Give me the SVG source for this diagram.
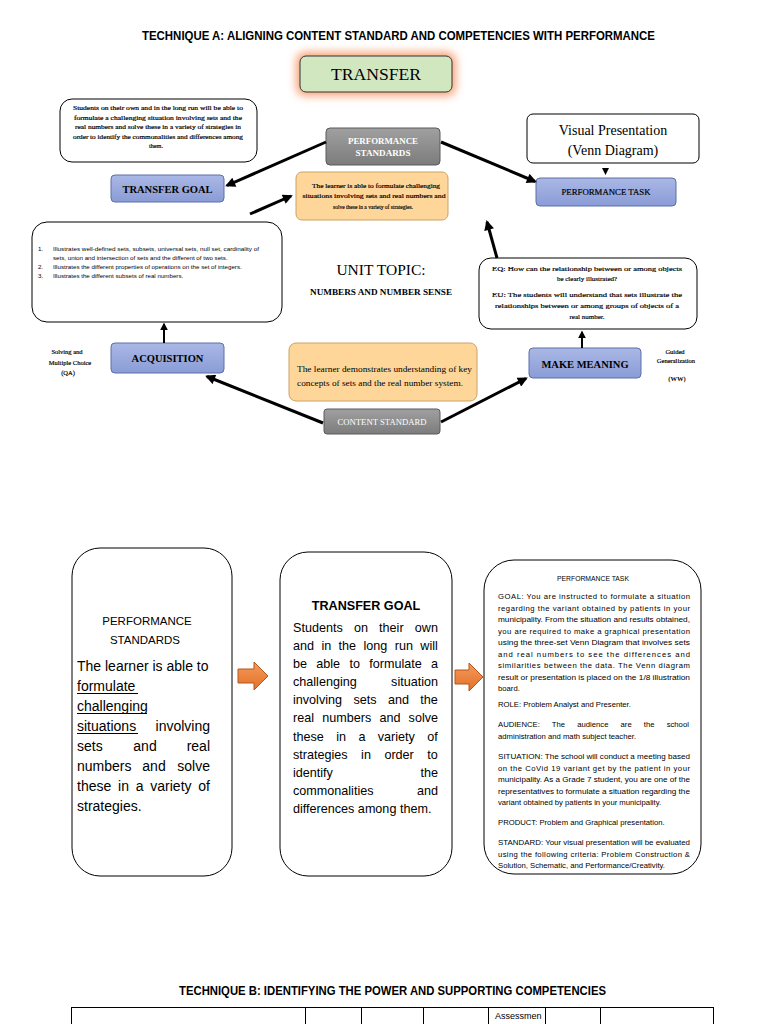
<svg xmlns="http://www.w3.org/2000/svg" width="768" height="1024" viewBox="0 0 768 1024">
<style>
.serif{font-family:'Liberation Serif','Times New Roman',serif;fill:#000}
.sans{font-family:'Liberation Sans',Arial,sans-serif;fill:#000}
.b{font-weight:bold}
.mid{text-anchor:middle}
.end{text-anchor:end}
.hv{stroke:#000;stroke-width:0.18}
.wbox{fill:#fff;stroke:#000;stroke-width:1}
.blue{fill:url(#gBlue);stroke:#5d6ea6;stroke-width:1}
.gray{fill:url(#gGray);stroke:#5a5a5a;stroke-width:1}
.orange{fill:#ffd699;stroke:#caa266;stroke-width:1}
.conn{stroke:#000;stroke-width:3;fill:none;marker-end:url(#ah)}
.conn2{stroke:#000;stroke-width:2;fill:none;marker-end:url(#ah2)}
.blk{fill:url(#gOr);stroke:#b4561c;stroke-width:1}
.ul{stroke:#000;stroke-width:1}
.tline{stroke:#000;stroke-width:1}
</style>
<defs>
<linearGradient id="gBlue" x1="0" y1="0" x2="0" y2="1"><stop offset="0" stop-color="#aab8e6"/><stop offset="1" stop-color="#8a9cd6"/></linearGradient>
<linearGradient id="gGray" x1="0" y1="0" x2="0" y2="1"><stop offset="0" stop-color="#a0a0a0"/><stop offset="1" stop-color="#7c7c7c"/></linearGradient>
<linearGradient id="gOr" x1="0" y1="0" x2="0" y2="1"><stop offset="0" stop-color="#f59a5a"/><stop offset="1" stop-color="#e2702a"/></linearGradient>
<filter id="glow" x="-30%" y="-60%" width="160%" height="220%"><feGaussianBlur stdDeviation="4"/></filter>
<marker id="ah" viewBox="0 0 10 10" refX="8" refY="5" markerWidth="11" markerHeight="10" markerUnits="userSpaceOnUse" orient="auto"><path d="M0,0 L10,5 L0,10 z" fill="#000"/></marker>
<marker id="ah2" viewBox="0 0 10 10" refX="8" refY="5" markerWidth="8" markerHeight="8" markerUnits="userSpaceOnUse" orient="auto"><path d="M0,0 L10,5 L0,10 z" fill="#000"/></marker>
</defs>
<rect width="768" height="1024" fill="#fff"/>

<text id="titleA" class="sans b mid" x="398.5" y="40" font-size="12" textLength="513" lengthAdjust="spacingAndGlyphs">TECHNIQUE A: ALIGNING CONTENT STANDARD AND COMPETENCIES WITH PERFORMANCE</text>

<g id="transfer">
<rect x="296" y="52" width="160" height="44" rx="9" fill="#f7a47a" filter="url(#glow)"/>
<rect x="300" y="56" width="152" height="36" rx="6" fill="#d0e7c0" stroke="#333" stroke-width="1"/>
<text class="serif mid" x="376" y="80" font-size="16" textLength="90" lengthAdjust="spacingAndGlyphs">TRANSFER</text>
</g>

<g id="transferGoalText">
<rect class="wbox" x="60" y="99" width="197" height="63" rx="12"/>
<text class="serif mid hv" x="158" y="110" font-size="6.3" textLength="170" lengthAdjust="spacingAndGlyphs">Students on their own and in the long run will be able to</text>
<text class="serif mid hv" x="158" y="119.5" font-size="6.3" textLength="168" lengthAdjust="spacingAndGlyphs">formulate a challenging situation involving sets and the</text>
<text class="serif mid hv" x="158" y="129" font-size="6.3" textLength="166" lengthAdjust="spacingAndGlyphs">real numbers and solve these in a variety of strategies in</text>
<text class="serif mid hv" x="158" y="138.5" font-size="6.3" textLength="170" lengthAdjust="spacingAndGlyphs">order to identify the commonalities and differences among</text>
<text class="serif mid hv" x="156" y="148" font-size="6.3">them.</text>
</g>

<g id="perfStandards">
<rect class="gray" x="326" y="128" width="114" height="37" rx="4"/>
<text class="serif b mid" x="383" y="144" font-size="8.5" style="fill:#fff" textLength="70" lengthAdjust="spacingAndGlyphs">PERFORMANCE</text>
<text class="serif b mid" x="383" y="155.5" font-size="8.5" style="fill:#fff" textLength="55" lengthAdjust="spacingAndGlyphs">STANDARDS</text>
</g>

<g id="perfStandardText">
<rect class="orange" x="296" y="172" width="152" height="48" rx="6"/>
<text class="serif mid hv" x="376" y="188" font-size="6.5" textLength="128" lengthAdjust="spacingAndGlyphs">The learner is able to formulate challenging</text>
<text class="serif mid hv" x="374" y="198" font-size="6.5" textLength="143" lengthAdjust="spacingAndGlyphs">situations involving sets and real numbers and</text>
<text class="serif mid hv" x="373" y="209" font-size="6.5" textLength="80" lengthAdjust="spacingAndGlyphs">solve these in a variety of strategies.</text>
</g>

<g id="visualPresentation">
<rect class="wbox" x="527" y="114" width="172" height="49" rx="6"/>
<text class="serif mid" x="613" y="135" font-size="14">Visual Presentation</text>
<text class="serif mid" x="613" y="155" font-size="14">(Venn Diagram)</text>
</g>

<g id="perfTask">
<rect class="blue" x="536" y="178" width="140" height="28" rx="4"/>
<text class="serif mid hv" x="606" y="195" font-size="8" textLength="89" lengthAdjust="spacingAndGlyphs">PERFORMANCE TASK</text>
</g>

<g id="transferGoal">
<rect class="blue" x="111" y="175" width="113" height="27" rx="4"/>
<text class="serif b mid" x="167.5" y="192.5" font-size="10.5">TRANSFER GOAL</text>
</g>

<g id="competencies">
<rect class="wbox" x="32" y="222" width="250" height="100" rx="15"/>
<text class="sans" x="38" y="251" font-size="6.2">1.</text>
<text class="sans" x="53" y="251" font-size="6.2" textLength="206" lengthAdjust="spacingAndGlyphs">Illustrates well-defined sets, subsets, universal sets, null set, cardinality of</text>
<text class="sans" x="53" y="260" font-size="6.2">sets, union and intersection of sets and the different of two sets.</text>
<text class="sans" x="38" y="269" font-size="6.2">2.</text>
<text class="sans" x="53" y="269" font-size="6.2">Illustrates the different properties of operations on the set of integers.</text>
<text class="sans" x="38" y="278" font-size="6.2">3.</text>
<text class="sans" x="53" y="278" font-size="6.2">Illustrates the different subsets of real numbers.</text>
</g>

<g id="unitTopic">
<text class="serif mid" x="381" y="275" font-size="15.5">UNIT TOPIC:</text>
<text class="serif b mid" x="381" y="295" font-size="8" textLength="142" lengthAdjust="spacingAndGlyphs">NUMBERS AND NUMBER SENSE</text>
</g>

<g id="eqeu">
<rect class="wbox" x="479" y="258" width="218" height="71" rx="12"/>
<text class="serif mid hv" x="587" y="271" font-size="7" textLength="190" lengthAdjust="spacingAndGlyphs">EQ: How can the relationship between or among objects</text>
<text class="serif mid hv" x="587" y="281" font-size="7">be clearly illustrated?</text>
<text class="serif mid hv" x="587" y="297" font-size="7" textLength="190" lengthAdjust="spacingAndGlyphs">EU: The students will understand that sets illustrate the</text>
<text class="serif mid hv" x="587" y="308" font-size="7" textLength="184" lengthAdjust="spacingAndGlyphs">relationships between or among groups of objects of a</text>
<text class="serif mid hv" x="587" y="319" font-size="7">real number.</text>
</g>

<g id="acquisition">
<rect class="blue" x="111" y="343" width="113" height="30" rx="4"/>
<text class="serif b mid" x="167.5" y="361.5" font-size="10.5">ACQUISITION</text>
</g>
<g id="qaLabel">
<text class="serif mid hv" x="67" y="354" font-size="6.5">Solving and</text>
<text class="serif mid hv" x="70" y="364.5" font-size="6.5">Multiple Choice</text>
<text class="serif mid hv" x="68" y="375" font-size="6.5">(QA)</text>
</g>

<g id="contentStandardText">
<rect class="orange" x="289" y="343" width="188" height="58" rx="7"/>
<text class="serif" x="297" y="372" font-size="8.5" textLength="175" lengthAdjust="spacingAndGlyphs">The learner demonstrates understanding of key</text>
<text class="serif" x="297" y="386" font-size="8.5" textLength="166" lengthAdjust="spacingAndGlyphs">concepts of sets and the real number system.</text>
</g>

<g id="contentStandard">
<rect class="gray" x="324" y="409" width="116" height="25" rx="3"/>
<text class="serif mid" x="382" y="424.5" font-size="7.5" style="fill:#fff" textLength="89" lengthAdjust="spacingAndGlyphs">CONTENT STANDARD</text>
</g>

<g id="makeMeaning">
<rect class="blue" x="529" y="348" width="112" height="30" rx="4"/>
<text class="serif b mid" x="585" y="367.5" font-size="10.5">MAKE MEANING</text>
</g>
<g id="wwLabel">
<text class="serif mid hv" x="675" y="354" font-size="6.5">Guided</text>
<text class="serif mid hv" x="676" y="363" font-size="6.5">Generalization</text>
<text class="serif b mid" x="677" y="381" font-size="6.5">(WW)</text>
</g>

<g id="connectors">
<line class="conn" x1="326" y1="142" x2="227" y2="185.5"/>
<line class="conn" x1="441" y1="142" x2="535" y2="181.5"/>
<line class="conn" x1="250" y1="214" x2="291" y2="196"/>
<line class="conn" x1="497" y1="258" x2="487" y2="222"/>
<line class="conn2" x1="164" y1="343" x2="164" y2="324"/>
<line class="conn2" x1="582" y1="348" x2="582" y2="332"/>
<line class="conn" x1="323" y1="423" x2="207" y2="376.5"/>
<line class="conn" x1="441" y1="422" x2="526" y2="378.5"/>
<polygon points="602,168 609,168 605.5,175" fill="#000"/>
</g>

<g id="boxPS">
<rect class="wbox" x="72" y="548" width="160" height="328" rx="28"/>
<text class="sans mid" x="147" y="625" font-size="11.5">PERFORMANCE</text>
<text class="sans mid" x="145" y="643.5" font-size="11.5">STANDARDS</text>
<text class="sans" x="77" y="670.5" font-size="14">The learner is able to</text>
<text class="sans" x="77" y="690.5" font-size="14">formulate</text>
<line class="ul" x1="77" y1="693.5" x2="138" y2="693.5"/>
<text class="sans" x="77" y="710.5" font-size="14">challenging</text>
<line class="ul" x1="77" y1="713.5" x2="147" y2="713.5"/>
<text class="sans" x="77" y="730.5" font-size="14">situations</text>
<line class="ul" x1="77" y1="733.5" x2="138" y2="733.5"/>
<text class="sans end" x="210" y="730.5" font-size="14">involving</text>
<text class="sans" x="77" y="750.5" font-size="14">sets</text>
<text class="sans mid" x="145" y="750.5" font-size="14">and</text>
<text class="sans end" x="210" y="750.5" font-size="14">real</text>
<text class="sans" x="77" y="770.5" font-size="14">numbers</text>
<text class="sans mid" x="154" y="770.5" font-size="14">and</text>
<text class="sans end" x="210" y="770.5" font-size="14">solve</text>
<text class="sans" x="77" y="790.5" font-size="14" word-spacing="2.9">these in a variety of</text>
<text class="sans" x="77" y="810.5" font-size="14">strategies.</text>
</g>

<g id="arrow1">
<polygon class="blk" points="238,669 254,669 254,662 268,676 254,690 254,683 238,683"/>
</g>

<g id="boxTG">
<rect class="wbox" x="280" y="552" width="172" height="324" rx="28"/>
<text class="sans b mid" x="366" y="609.5" font-size="12.6">TRANSFER GOAL</text>
<text class="sans" x="293" y="632" font-size="12.6" word-spacing="7.7">Students on their own</text>
<text class="sans" x="293" y="650" font-size="12.6" word-spacing="3.9">and in the long run will</text>
<text class="sans" x="293" y="668" font-size="12.6" word-spacing="5.8">be able to formulate a</text>
<text class="sans" x="293" y="686" font-size="12.6">challenging</text>
<text class="sans end" x="438" y="686" font-size="12.6">situation</text>
<text class="sans" x="293" y="704" font-size="12.6" word-spacing="7.9">involving sets and the</text>
<text class="sans" x="293" y="722" font-size="12.6" word-spacing="4.7">real numbers and solve</text>
<text class="sans" x="293" y="741" font-size="12.6" word-spacing="8.9">these in a variety of</text>
<text class="sans" x="293" y="759" font-size="12.6" word-spacing="10">strategies in order to</text>
<text class="sans" x="293" y="777" font-size="12.6">identify</text>
<text class="sans end" x="438" y="777" font-size="12.6">the</text>
<text class="sans" x="293" y="795" font-size="12.6">commonalities</text>
<text class="sans end" x="438" y="795" font-size="12.6">and</text>
<text class="sans" x="293" y="813" font-size="12.6">differences among them.</text>
</g>

<g id="arrow2">
<polygon class="blk" points="455,670 469,670 469,663 483,677 469,691 469,684 455,684"/>
</g>

<g id="boxPT">
<rect class="wbox" x="484" y="560" width="217" height="314" rx="30"/>
<text class="sans mid" x="593" y="581" font-size="6.8">PERFORMANCE TASK</text>
<text class="sans" x="498" y="599" font-size="7.7" textLength="192" lengthAdjust="spacing">GOAL: You are instructed to formulate a situation</text>
<text class="sans" x="498" y="610.5" font-size="7.7" textLength="192" lengthAdjust="spacing">regarding the variant obtained by patients in your</text>
<text class="sans" x="498" y="622" font-size="7.7" textLength="192" lengthAdjust="spacingAndGlyphs">municipality. From the situation and results obtained,</text>
<text class="sans" x="498" y="633.5" font-size="7.7" textLength="192" lengthAdjust="spacing">you are required to make a graphical presentation</text>
<text class="sans" x="498" y="645" font-size="7.7" textLength="192" lengthAdjust="spacingAndGlyphs">using the three-set Venn Diagram that involves sets</text>
<text class="sans" x="498" y="656.5" font-size="7.7" textLength="192" lengthAdjust="spacing">and real numbers to see the differences and</text>
<text class="sans" x="498" y="668" font-size="7.7" textLength="192" lengthAdjust="spacing">similarities between the data. The Venn diagram</text>
<text class="sans" x="498" y="679.5" font-size="7.7" textLength="192" lengthAdjust="spacingAndGlyphs">result or presentation is placed on the 1/8 illustration</text>
<text class="sans" x="498" y="691" font-size="7.7">board.</text>
<text class="sans" x="498" y="707" font-size="7.7">ROLE: Problem Analyst and Presenter.</text>
<text class="sans" x="498" y="727" font-size="7.7" word-spacing="10">AUDIENCE: The audience are the school</text>
<text class="sans" x="498" y="738.5" font-size="7.7">administration and math subject teacher.</text>
<text class="sans" x="498" y="759" font-size="7.7" textLength="192" lengthAdjust="spacingAndGlyphs">SITUATION: The school will conduct a meeting based</text>
<text class="sans" x="498" y="770.5" font-size="7.7" textLength="192" lengthAdjust="spacing">on the CoVid 19 variant get by the patient in your</text>
<text class="sans" x="498" y="782" font-size="7.7" textLength="192" lengthAdjust="spacingAndGlyphs">municipality. As a Grade 7 student, you are one of the</text>
<text class="sans" x="498" y="793.5" font-size="7.7" textLength="192" lengthAdjust="spacingAndGlyphs">representatives to formulate a situation regarding the</text>
<text class="sans" x="498" y="805" font-size="7.7">variant obtained by patients in your municipality.</text>
<text class="sans" x="498" y="825" font-size="7.7">PRODUCT: Problem and Graphical presentation.</text>
<text class="sans" x="498" y="845" font-size="7.7" textLength="192" lengthAdjust="spacingAndGlyphs">STANDARD: Your visual presentation will be evaluated</text>
<text class="sans" x="498" y="856.5" font-size="7.7" textLength="192" lengthAdjust="spacing">using the following criteria: Problem Construction &amp;</text>
<text class="sans" x="498" y="868" font-size="7.7">Solution, Schematic, and Performance/Creativity.</text>
</g>

<text id="titleB" class="sans b mid" x="392.5" y="995" font-size="12" textLength="427" lengthAdjust="spacingAndGlyphs">TECHNIQUE B: IDENTIFYING THE POWER AND SUPPORTING COMPETENCIES</text>

<g id="table">
<line class="tline" x1="71" y1="1007.5" x2="714" y2="1007.5"/>
<line class="tline" x1="71.5" y1="1007" x2="71.5" y2="1024"/>
<line class="tline" x1="305.5" y1="1007" x2="305.5" y2="1024"/>
<line class="tline" x1="361.5" y1="1007" x2="361.5" y2="1024"/>
<line class="tline" x1="423.5" y1="1007" x2="423.5" y2="1024"/>
<line class="tline" x1="488.5" y1="1007" x2="488.5" y2="1024"/>
<line class="tline" x1="545.5" y1="1007" x2="545.5" y2="1024"/>
<line class="tline" x1="600.5" y1="1007" x2="600.5" y2="1024"/>
<line class="tline" x1="713.5" y1="1007" x2="713.5" y2="1024"/>
<text class="sans" x="495" y="1018.5" font-size="9">Assessmen</text>
</g>
</svg>
